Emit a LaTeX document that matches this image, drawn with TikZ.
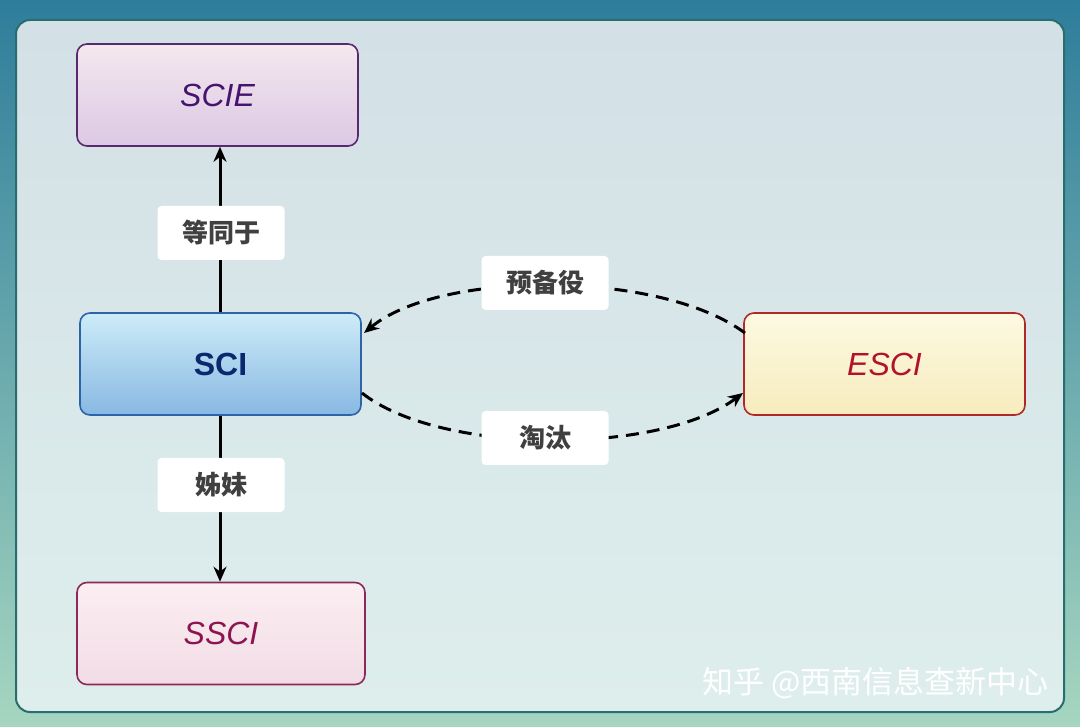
\documentclass[tikz,border=0pt]{standalone}
\usepackage{fontspec}
\setmainfont{Liberation Sans}
\newfontfamily\cjk{Noto Sans CJK SC}
\usetikzlibrary{arrows.meta}
\begin{document}
\begin{tikzpicture}[x=1pt,y=-1pt,
  box/.style={rounded corners=10pt,line width=1.6pt,minimum width=#1,minimum height=102pt,inner sep=0pt},
  lab/.style={fill=white,rounded corners=4pt,minimum width=127pt,minimum height=54pt,font=\cjk\fontsize{26}{28}\selectfont\bfseries,text=black!75},
  arr/.style={line width=3pt,-{Stealth[length=15pt,width=13pt]}},
  darr/.style={arr,dash pattern=on 13pt off 8pt}]
\useasboundingbox (0,0) rectangle (1080,727);
\shade[top color={rgb,255:red,46;green,125;blue,155}, bottom color={rgb,255:red,166;green,214;blue,192}] (0,0) rectangle (1080,727);
\shade[top color={rgb,255:red,211;green,224;blue,230}, bottom color={rgb,255:red,222;green,238;blue,236}, draw={rgb,255:red,40;green,110;blue,110}, line width=2pt, rounded corners=14pt] (16,20) rectangle (1064,712);
\node[box=281pt,draw={rgb,255:red,90;green,40;blue,110},top color={rgb,255:red,244;green,232;blue,238},bottom color={rgb,255:red,220;green,200;blue,228},font=\fontsize{32}{36}\selectfont\itshape,text={rgb,255:red,70;green,20;blue,110}] (scie) at (217.5,95) {SCIE};
\node[box=281pt,draw={rgb,255:red,45;green,100;blue,165},top color={rgb,255:red,205;green,236;blue,248},bottom color={rgb,255:red,136;green,184;blue,226},font=\fontsize{32}{36}\selectfont\bfseries,text={rgb,255:red,10;green,40;blue,110}] (sci) at (220.5,364) {SCI};
\node[box=288pt,draw={rgb,255:red,140;green,40;blue,90},top color={rgb,255:red,251;green,238;blue,241},bottom color={rgb,255:red,242;green,220;blue,230},font=\fontsize{32}{36}\selectfont\itshape,text={rgb,255:red,140;green,20;blue,80}] (ssci) at (221,633.5) {SSCI};
\node[box=281pt,draw={rgb,255:red,176;green,40;blue,40},top color={rgb,255:red,253;green,249;blue,226},bottom color={rgb,255:red,247;green,236;blue,190},font=\fontsize{32}{36}\selectfont\itshape,text={rgb,255:red,176;green,20;blue,45}] (esci) at (884.5,364) {ESCI};
\coordinate (e1) at (745,333); \coordinate (s1) at (364,333);
\coordinate (s2) at (362,393); \coordinate (e2) at (743,393);
\draw[arr] (sci.north -| 220,0) -- (scie.south -| 220,0);
\draw[arr] (sci.south -| 220,0) -- (ssci.north -| 220,0);
\draw[darr] (e1) .. controls (660,270) and (440,270) .. (s1);
\draw[darr] (s2) .. controls (440,455) and (660,455) .. (e2);
\node[lab] (l1) at (221,233) {等同于};
\node[lab] (l2) at (221,485) {姊妹};
\node[lab] (l3) at (545,283) {预备役};
\node[lab] (l4) at (545,438) {淘汰};
\node[font=\cjk\fontsize{31}{34}\selectfont,text=white,anchor=east] (wm) at (1052,683) {知乎 @西南信息查新中心};
\end{tikzpicture}
\end{document}
